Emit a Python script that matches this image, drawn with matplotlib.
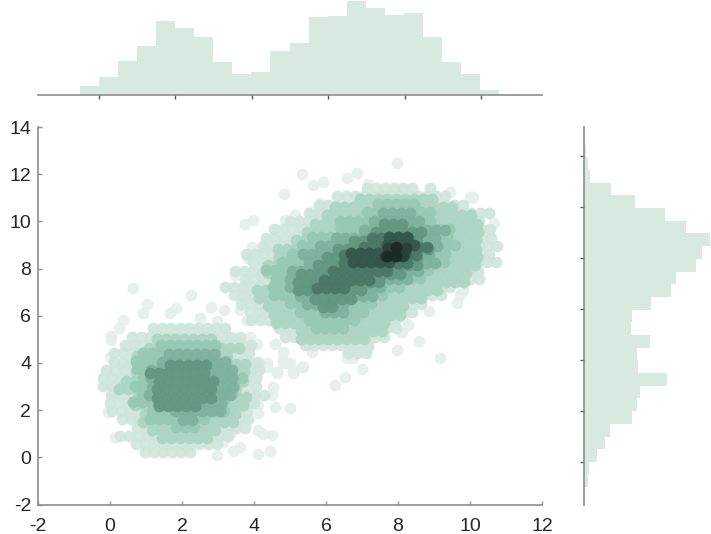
import matplotlib
matplotlib.use("Agg")
import matplotlib.pyplot as plt
import numpy as np

plt.rcParams['font.family'] = ['Liberation Sans', 'DejaVu Sans']
plt.rcParams['axes.unicode_minus'] = False

# density table: one row per y value, one character per x column
# (spaces only group the columns; '.' is empty)
grid_x0 = -0.5
grid_dx = 0.25
grid_y = [11.35, 11.0, 10.65, 10.3, 9.95, 9.6, 9.25, 8.9, 8.55, 8.2, 7.85, 7.5, 7.15, 6.8,
          6.45, 6.1, 5.75, 5.4, 5.05, 4.7, 4.35, 4.0, 3.65, 3.3, 2.95, 2.6, 2.25, 1.9,
          1.55, 1.2, 0.85, 0.5, 0.15]
grid_rows = [
    ".......... .......... .......... 111111.1..",
    ".......... .......... .......112 2222222211",
    ".......... .......... .....11222 2233333222 21",
    ".......... .......... ...1122222 3344443322 2211",
    ".......... .......... ..11222233 3445554332 2221",
    ".......... .......... 1112222334 4555555443 22211",
    ".......... .........1 1122233445 5667775443 32211",
    ".......... ........11 2223344556 6689876543 32211",
    ".......... .......111 2234445567 7789976433 22211",
    ".......... .......112 2334455667 7777655433 22211",
    ".......... ......1112 3345556666 6665544332 2211",
    ".......... ......1112 3445566666 6554433222 211",
    ".......... .....11122 3345566665 5443322221 1",
    ".......... .....11122 3344555554 4332222 11.",
    ".......... ......1112 2233445543 3322211...",
    ".......... .......112 2223344433 322211....",
    ".......... ........11 2222333333 22211.....",
    "......1111 11111..... 1122233332 2211......",
    "....111222 2222111... .112222222 211.......",
    "...1122333 33332211.. ...1111111 1.........",
    "..11123344 44443211.. ........11 1.........",
    "..11233455 555443211.",
    ".111234555 555544211.",
    ".112234555 555544311.",
    ".112234555 555544311.",
    ".111234555 555544211.",
    "..11233455 555443211.",
    "..11123344 44443211..",
    "...1122333 44332211..",
    "....112223 3322111...",
    "...1111222 222111....",
    "....111111 1111......",
    "......1111 11........",
]

# separate pale points
sparse_x = [0.65, 1.04, 2.26, 2.80, 1.83, 1.67, 0.93, 0.37, 0.26, 0.02, 0.02, 3.48, 3.79, 3.70,
            3.18, 3.61, 2.50, 2.96, 3.80, 4.07, 4.59, 5.00, 4.59, 4.12, 4.12, 4.12, 4.49, 4.26,
            4.12, 4.44, 3.42, 3.61, 2.96, 0.14, 0.00, -0.05, 4.07, 5.37, 4.91, 4.52, 4.49, 4.03,
            4.35, 3.98, 4.63, 5.09, 4.81, 3.89, 3.61, 4.03, 3.80, 3.52, 3.70, 3.33, 3.15,
            7.98, 5.32, 6.57, 6.87, 5.92, 5.65, 7.17, 4.84, 9.44, 10.09, 10.00, 10.67, 10.42,
            10.23, 3.98, 3.75, 4.86, 5.14, 5.83, 5.65, 3.95, 4.30, 3.84, 3.80, 9.63, 9.81, 9.72,
            8.87, 8.59, 9.17, 7.96, 6.99, 6.53, 6.25, 8.15, 8.12, 8.29, 6.57, 6.76, 4.81, 4.35,
            5.32, 5.60, 7.17, 5.00, 4.81, 4.63, 5.09]
sparse_y = [7.16, 6.50, 6.88, 6.35, 6.31, 6.10, 6.10, 5.82, 5.46, 5.14, 4.97, 7.72, 7.47, 6.81,
            6.24, 6.24, 5.89, 5.79, 5.82, 4.79, 4.80, 2.07, 2.15, 1.86, 2.22, 1.16, 0.94, 1.00,
            0.14, 0.28, 0.27, 0.45, 0.10, 0.87, 4.24, 1.93, 3.49, 3.84, 3.98, 2.99, 2.64, 2.64,
            3.84, 3.56, 3.56, 3.56, 4.12, 5.11, 4.90, 3.98, 2.29, 2.08, 1.65, 1.00, 0.66,
            12.46, 12.00, 11.82, 12.07, 11.65, 11.54, 11.58, 11.18, 11.23, 11.04, 11.04, 9.95, 8.40,
            7.86, 10.05, 9.88, 10.05, 10.26, 10.79, 10.41, 8.90, 8.92, 8.43, 7.44, 6.52, 7.09, 6.88,
            6.21, 4.91, 4.23, 4.55, 3.73, 3.42, 3.06, 5.96, 5.32, 5.60, 4.19, 4.19, 4.47, 3.98,
            3.84, 4.48, 4.62, 3.98, 3.98, 3.63, 3.70]

# histograms
top_edge0 = -1.361
top_width = 0.529
top_counts = [0.5, 8.7, 17.7, 34.3, 49.3, 73.7, 66.7, 57.7, 32.7, 20.7, 23.3, 44.3,
              51.7, 78.3, 78.7, 94, 86.7, 79.7, 81.7, 58, 33.3, 20.7, 4.7, 0.7]
top_ticks = [-0.306, 1.816, 3.938, 6.06, 8.182, 10.304]
side_edge0 = -1.271
side_width = 0.538
side_counts = [4, 4.7, 13, 21, 26, 48.3, 53, 56.3, 83.3, 54, 52.7, 66.3, 47.3, 48.3,
               67, 87, 91.7, 112.3, 117.7, 126, 102.3, 80.7, 51, 26.7, 6, 3.7, 1.7]
side_ticks = [-0.2, 1.961, 4.122, 6.283, 8.444, 10.605, 12.766]
x_ticks = [-2, 0, 2, 4, 6, 8, 10, 12]
y_ticks = [-2, 0, 2, 4, 6, 8, 10, 12, 14]

level_colors = ['#e4efeb', '#cfe5dc', '#acd5c3', '#97c8b2', '#7fb29c', '#62967f',
                '#4a7666', '#34564a', '#26413a', '#1a2a25']
# a different placement of the dot lattice for each density level
level_shift = [(0, 0), (0.03, 0.06), (0.10, -0.05), (-0.06, 0.08), (0.06, 0.05),
               (-0.05, -0.07), (0.09, 0.03), (-0.03, 0.09), (0.04, -0.03), (0, 0)]
row_shift = [0.00, 0.07, -0.05, 0.10, -0.09, 0.03, 0.11, -0.03, -0.10, 0.05, 0.09]
AXIS = '#8c8c8c'
FILL = '#d8e9e0'
TEXT = '#262626'
W, H = 711, 534


def rect(l, t, r, b):
    return [l / W, 1 - b / H, (r - l) / W, (b - t) / H]


fig = plt.figure(figsize=(7.11, 5.34), dpi=100)
ax = fig.add_axes(rect(38, 127, 542, 504.5))
ax_top = fig.add_axes(rect(38, 0, 542, 95))
ax_side = fig.add_axes(rect(584, 127, 711, 504.5))

# scatter: each level paints every cell of at least that density
ax.scatter(sparse_x, sparse_y, s=72, color=level_colors[0], alpha=0.9, linewidths=0, zorder=1)
for level in range(1, 10):
    xs, ys = [], []
    for r, (yv, row) in enumerate(zip(grid_y, grid_rows)):
        row = row.replace(' ', '')
        for i, ch in enumerate(row):
            if ch != '.' and int(ch) >= level:
                jitter = row_shift[(r + 3 * level) % len(row_shift)]
                xs.append(grid_x0 + i * grid_dx + (0.125 if r % 2 else 0) + level_shift[level][0] + jitter)
                ys.append(yv + level_shift[level][1])
    ax.scatter(xs, ys, s=72, color=level_colors[level], alpha=0.92, linewidths=0, zorder=1 + level)

ax.set_xlim(-2, 12)
ax.set_ylim(-2, 14)
ax.set_xticks(x_ticks)
ax.set_yticks(y_ticks)
ax.tick_params(direction='in', length=3, width=1, color=AXIS, labelcolor=TEXT, labelsize=14)
ax.tick_params(axis='y', pad=5)
ax.tick_params(axis='x', pad=10)
for s in ['top', 'right']:
    ax.spines[s].set_visible(False)
for s in ['left', 'bottom']:
    ax.spines[s].set_color(AXIS)
    ax.spines[s].set_linewidth(1.2)

# top histogram
top_left = [top_edge0 + i * top_width for i in range(len(top_counts))]
ax_top.bar(top_left, top_counts, width=top_width, align='edge', color=FILL, linewidth=0)
ax_top.set_xlim(-2, 12)
ax_top.set_ylim(0, 95)
ax_top.set_xticks(top_ticks)
ax_top.set_xticklabels([])
ax_top.set_yticks([])
ax_top.tick_params(direction='out', length=3, width=1, color='#555555')
for s in ['top', 'right', 'left']:
    ax_top.spines[s].set_visible(False)
ax_top.spines['bottom'].set_color(AXIS)
ax_top.spines['bottom'].set_linewidth(1.2)
ax_top.patch.set_alpha(0)

# side histogram
side_bottom = [side_edge0 + i * side_width for i in range(len(side_counts))]
ax_side.barh(side_bottom, side_counts, height=side_width, align='edge', color=FILL, linewidth=0)
ax_side.set_ylim(-2, 14)
ax_side.set_xlim(0, 127)
ax_side.set_yticks(side_ticks)
ax_side.set_yticklabels([])
ax_side.set_xticks([])
ax_side.tick_params(direction='out', length=3, width=1, color='#555555')
for s in ['top', 'right', 'bottom']:
    ax_side.spines[s].set_visible(False)
ax_side.spines['left'].set_color(AXIS)
ax_side.spines['left'].set_linewidth(1.2)
ax_side.patch.set_alpha(0)

fig.savefig('out.png', dpi=100)
